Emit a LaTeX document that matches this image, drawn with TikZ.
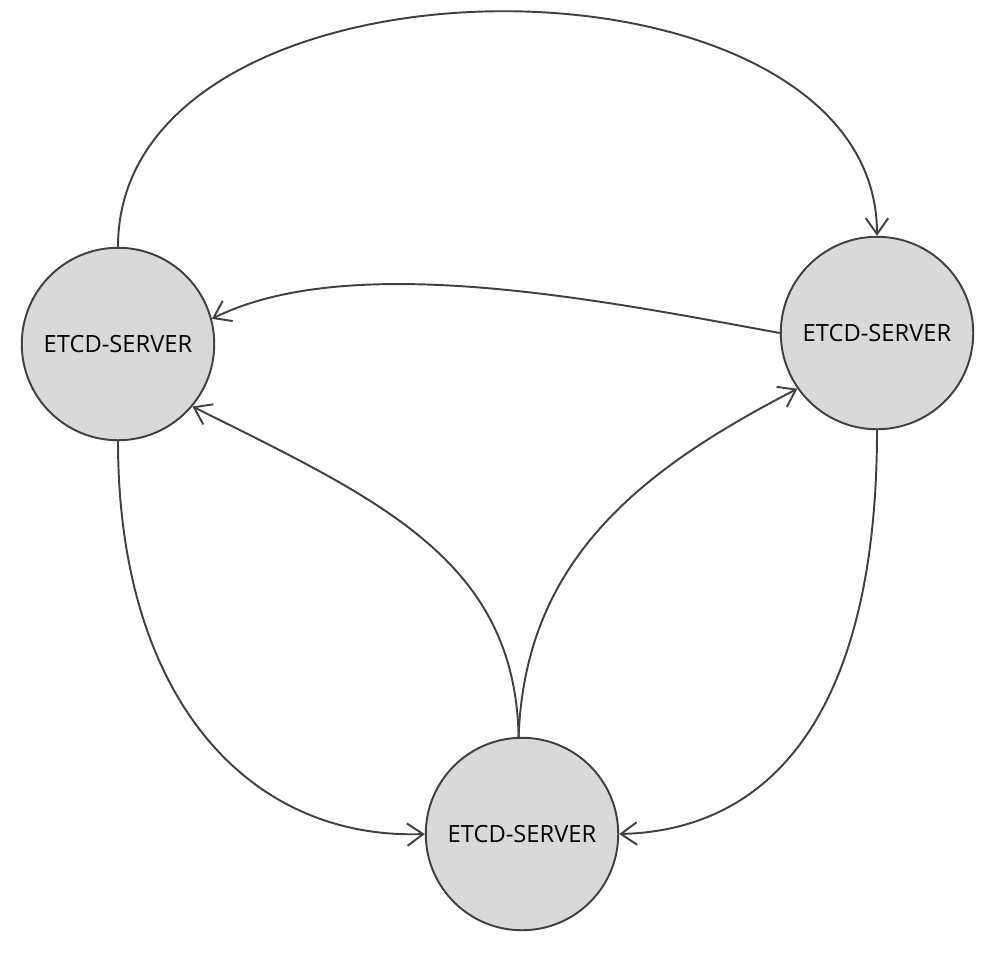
\documentclass[tikz,border=0pt]{standalone}
\usepackage{fontspec}
\setmainfont{Open Sans}
\usetikzlibrary{arrows.meta}
\begin{document}
\begin{tikzpicture}[x=0.02cm,y=-0.02cm,
  srv/.style={circle,draw=black!75,fill=black!15,line width=1.1pt,minimum size=3.85cm,inner sep=0pt,font=\fontsize{13.5}{15}\selectfont},
  conn/.style={draw=black!75,line width=1.1pt,-{Straight Barb[length=3.2mm,width=4.5mm]}}]
\useasboundingbox (0,0) rectangle (996,970);
\node[srv] (L) at (118,344) {ETCD-SERVER};
\node[srv] (R) at (877,333) {ETCD-SERVER};
\node[srv] (B) at (522,834) {ETCD-SERVER};
\draw[conn] (L.90) .. controls (118,-65) and (877,-65) .. (R.90);
\draw[conn] (R.180) .. controls (600,300) and (350,250) .. (L.15);
\draw[conn] (B.92) .. controls (515,560) and (380,500) .. (L.-40);
\draw[conn] (B.92) .. controls (525,560) and (640,470) .. (R.-145);
\draw[conn] (L.-90) .. controls (118,700) and (250,840) .. (B.180);
\draw[conn] (R.-90) .. controls (877,700) and (780,830) .. (B.0);
\end{tikzpicture}
\end{document}
